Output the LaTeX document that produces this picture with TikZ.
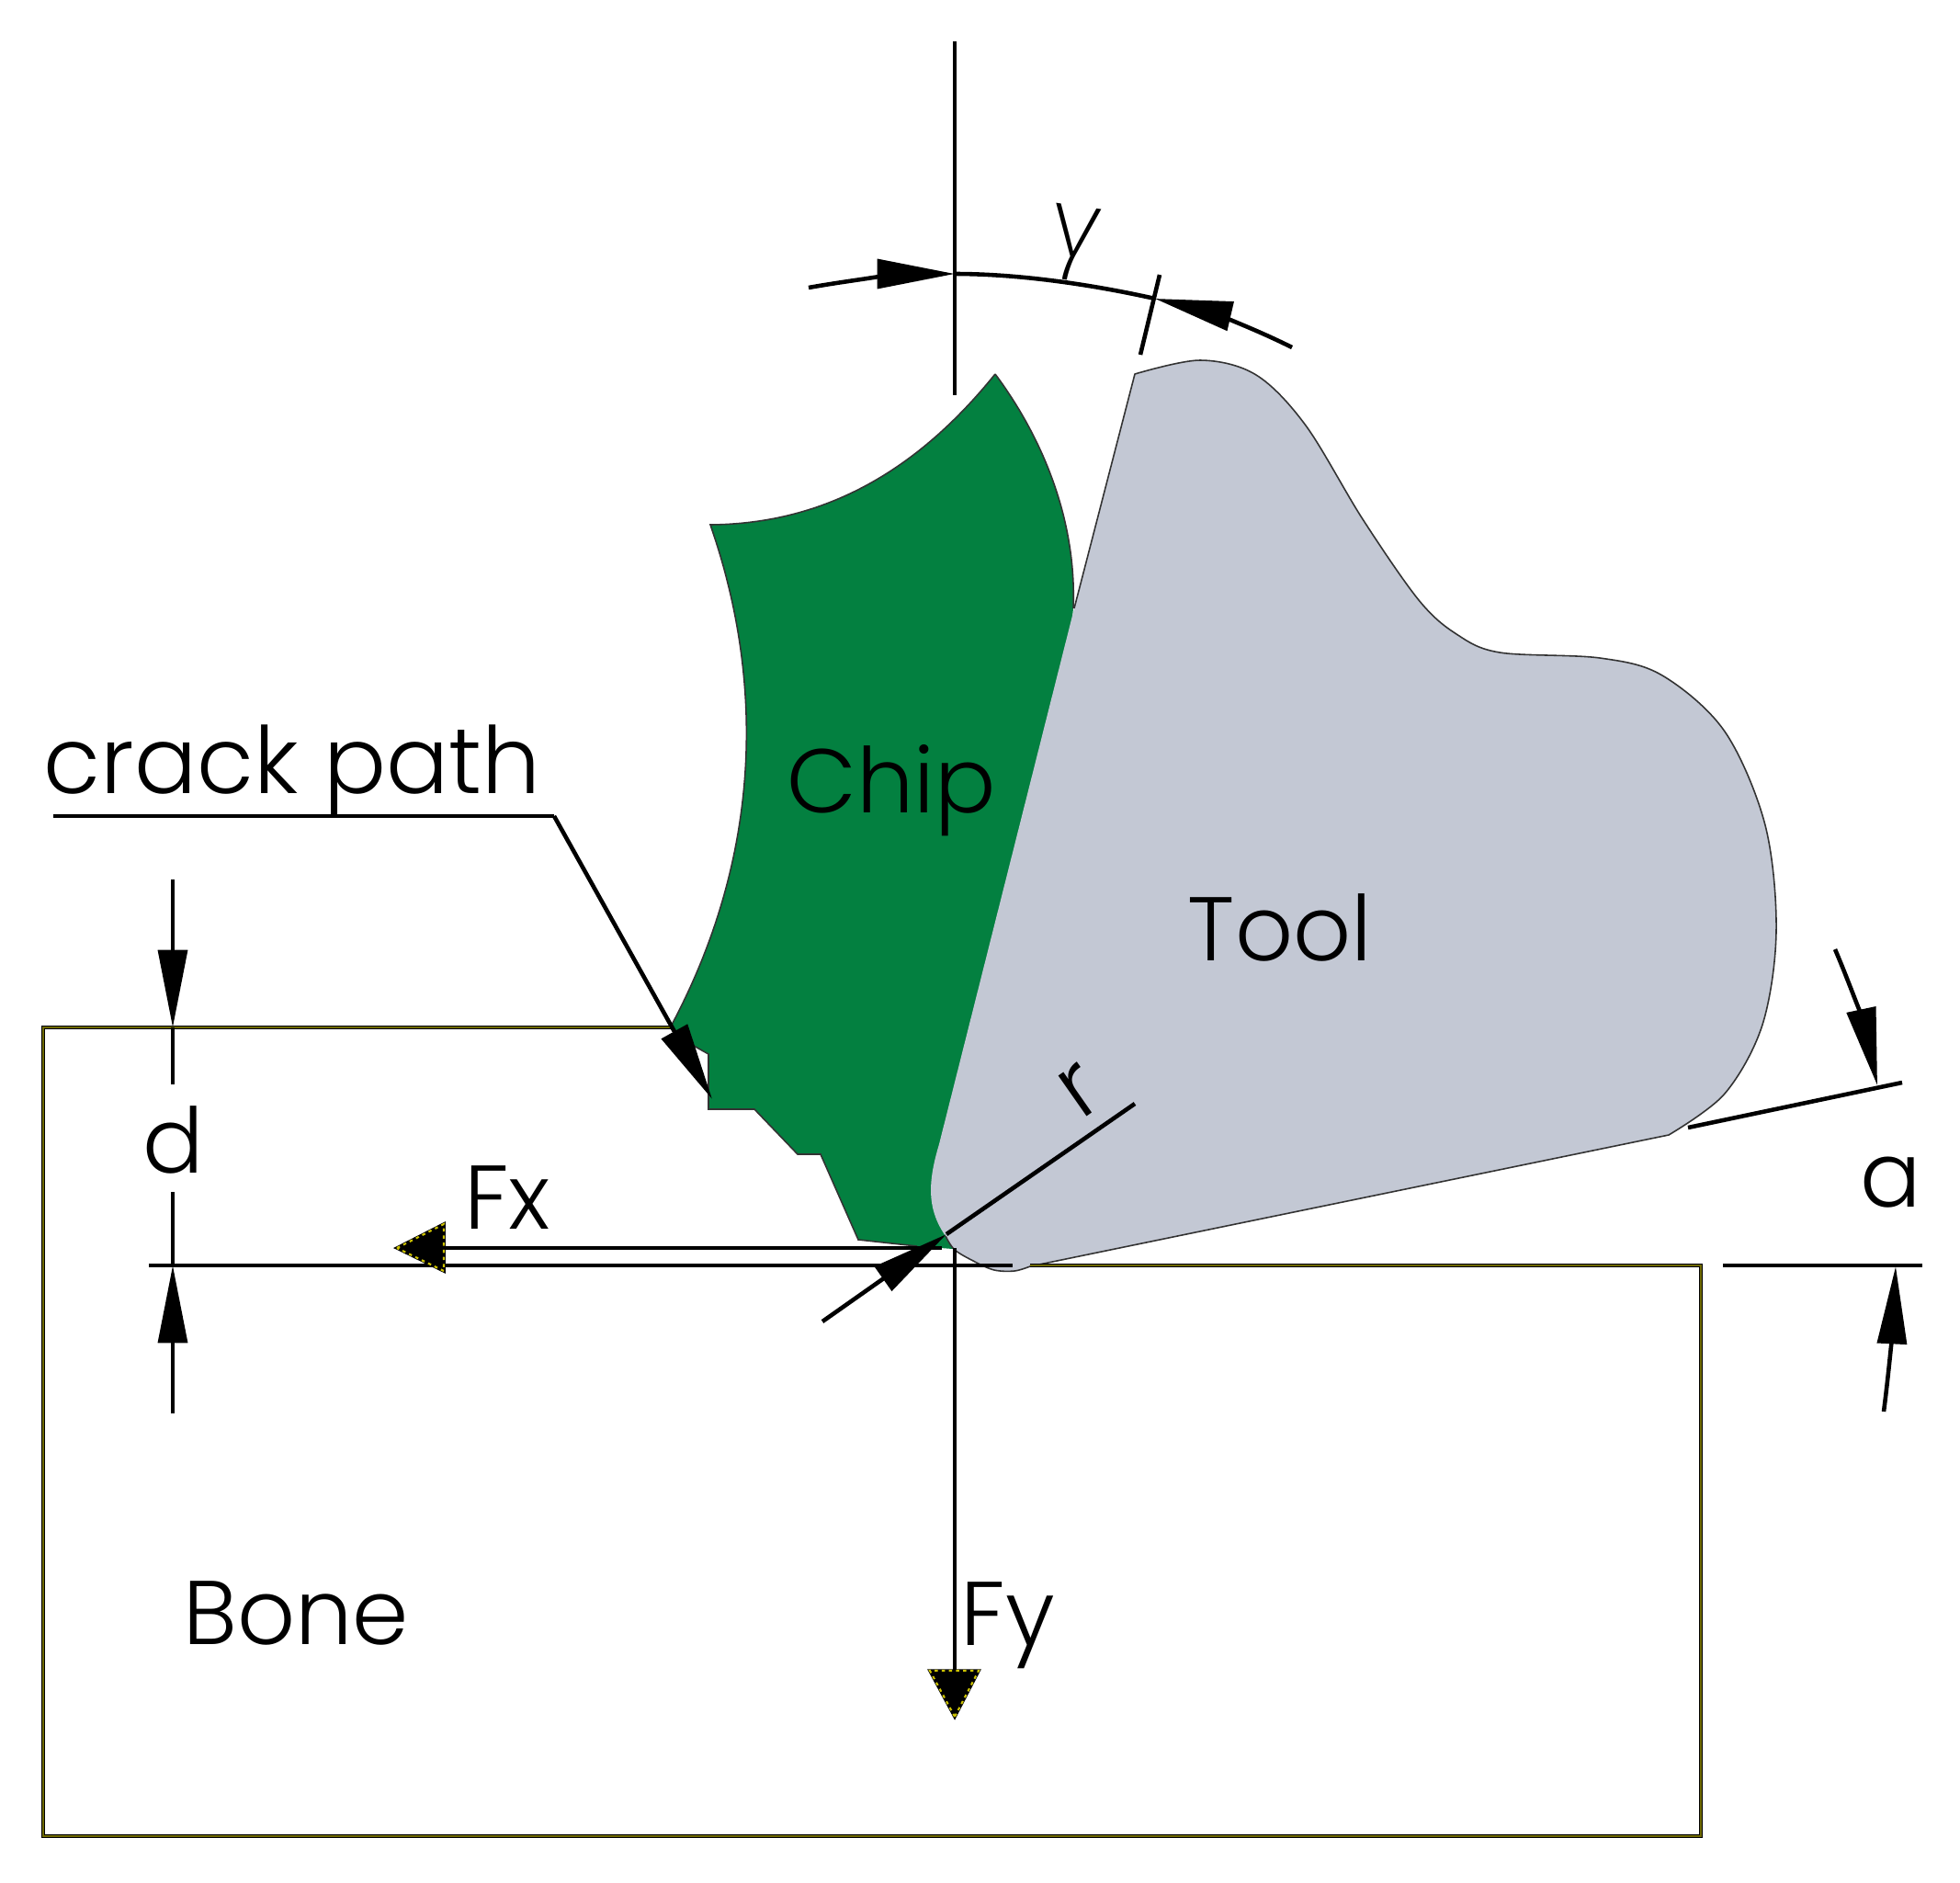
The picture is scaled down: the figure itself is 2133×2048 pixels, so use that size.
\documentclass[tikz,border=0pt]{standalone}
\usepackage{fontspec}
\setmainfont{Poppins Light}
\newfontfamily\greekfont{Open Sans Light}
\usetikzlibrary{arrows.meta}
\definecolor{chipgreen}{RGB}{3,128,64}
\definecolor{toolgray}{RGB}{195,200,212}
\definecolor{boneolive}{RGB}{110,105,0}
\definecolor{headyellow}{RGB}{205,195,0}
\tikzset{
  dimline/.style={line width=1.3pt,-{Triangle[length=24pt,width=9pt]}},
  plainline/.style={line width=1.3pt},
  edgeline/.style={line width=.45pt,draw=black!80},
  boneline/.style={draw=black,line width=.45pt,double=boneolive,double distance=.35pt},
  forcehead/.style={fill=black,draw=black,line width=1pt,postaction={draw=headyellow,line width=.6pt,dash pattern=on 1pt off 1.2pt}},
  lbl/.style={font=\fontsize{28}{28}\selectfont,inner sep=0pt,anchor=base},
}
\newcommand{\chipcurve}{(1083,407) .. controls (1130,470) and (1172,560) .. (1168,662)}
\newcommand{\chipteeth}{(730,1117) -- (755,1138) -- (771,1147) -- (771,1207) -- (821,1207) -- (868,1256) -- (893,1256) -- (934,1349) -- (998,1356)}
\newcommand{\toolback}{(1169,662) -- (1235,407) -- plot[smooth,tension=.55] coordinates {(1235,407) (1306,392) (1367,408) (1421,463) (1483,565) (1544,653) (1585,690) (1632,710) (1741,716) (1809,735) (1877,796) (1921,898) (1933,1013) (1918,1115) (1877,1190) (1816,1235)} -- (1121,1378) -- plot[smooth,tension=.55] coordinates {(1121,1378) (1104,1383) (1082,1382) (1061,1373) (1039,1360) (1029,1345)}}
\begin{document}
\begin{tikzpicture}[x=0.01cm,y=-0.01cm]
    \useasboundingbox (0,0) rectangle (2133,2048);

    \fill[chipgreen] \chipcurve -- (1100,1359) -- (1037,1359) -- (998,1356) -- (934,1349) -- (893,1256) -- (868,1256) -- (821,1207) -- (771,1207) -- (771,1147) -- (755,1138) -- (730,1117)
        .. controls (830,930) and (832,740) .. (773,571)
        .. controls (900,570) and (1000,510) .. (1083,407) -- cycle;
    \fill[toolgray] \toolback .. controls (1008,1315) and (1010,1285) .. (1022,1245) -- cycle;

    \draw[edgeline] \chipcurve;
    \draw[edgeline] (730,1117) .. controls (830,930) and (832,740) .. (773,571)
        .. controls (900,570) and (1000,510) .. (1083,407);
    \draw[edgeline] \chipteeth;
    \draw[edgeline] \toolback;

    \coordinate (bonea) at (730,1118);
    \coordinate (boneb) at (1121,1377);
    \draw[boneline] (bonea) -- (47,1118) -- (47,1998) -- (1851,1998) -- (1851,1377) -- (boneb);

    \node[lbl,font=\fontsize{28.7}{28.7}\selectfont] (crack) at (318,863){crack path};
    \node[lbl] (chip) at (970,884){Chip};
    \node[lbl] (tool) at (1393,1045){Tool};
    \node[lbl] (bone) at (322,1789){Bone};
    \node[lbl] (fx) at (552,1337){Fx};
    \node[lbl] (fy) at (1097,1790){Fy};
    \node[lbl] (d) at (189,1276){d};
    \node[lbl] (a) at (2058,1313){a};
    \node[lbl,anchor=center,rotate=35] (r) at (1175,1187){r};
    \node[lbl,anchor=center,rotate=-8,font=\greekfont\fontsize{30}{30}\selectfont] (gamma) at (1169,265){γ};

    % surface and reference lines
    \coordinate (origin) at (1039,1377);
    \coordinate (fxtip) at (1025,1358);
    \draw[plainline] (162,1377) -- (1102,1377);
    \draw[plainline] (1039,45) -- (1039,430);
    \draw[plainline] (1875,1377) -- (2092,1377);
    \draw[plainline] (1837,1227) -- (2070,1178);
    \draw[plainline] (1262,299) -- (1241,386);

    % forces
    \draw[line width=1.1pt] (fxtip) -- (483,1358);
    \draw[forcehead] (432,1358) -- (483,1332) -- (483,1383) -- cycle;
    \draw[line width=1.1pt] (1039,1358) -- (1039,1818);
    \draw[forcehead] (1039,1868) -- (1012,1818) -- (1065,1818) -- cycle;

    % dimensions
    \draw[dimline] (188,957) -- (188,1118);
    \draw[plainline] (188,1118) -- (188,1180);
    \draw[dimline] (188,1538) -- (188,1377);
    \draw[plainline] (188,1377) -- (188,1297);
    \draw[dimline] (1997,1033) .. controls (2015,1075) and (2030,1120) .. (2043,1181);
    \draw[dimline] (2050,1536) .. controls (2056,1490) and (2060,1440) .. (2063,1378);
    \draw[dimline] (880,313) .. controls (930,304) and (990,298) .. (1039,298);
    \draw[plainline] (1039,298) .. controls (1110,298) and (1190,310) .. (1257,325);
    \draw[dimline] (1406,378) .. controls (1350,350) and (1300,335) .. (1257,325);
    \draw[dimline] (895,1438) -- (1030,1343);
    \draw[plainline] (1030,1343) -- (1235,1201);
    \draw[plainline] (58,888) -- (603,888);
    \draw[dimline] (603,888) -- (775,1196);
\end{tikzpicture}
\end{document}
